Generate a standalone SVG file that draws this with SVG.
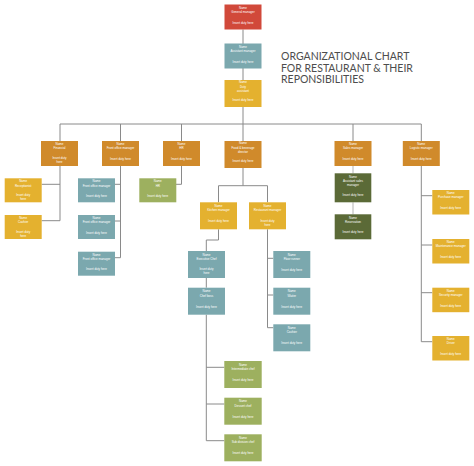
<svg xmlns="http://www.w3.org/2000/svg" width="474" height="466" viewBox="0 0 474 466">
<style>
.bg{fill:#ffffff}
.n rect{stroke:none}
.red{fill:#d1493a}
.teal{fill:#7ba8ae}
.yel{fill:#e4b12f}
.org{fill:#d08a2b}
.lg{fill:#9db05f}
.dg{fill:#5b6a37}
.n text{font-family:"Liberation Sans",Arial,sans-serif;font-size:3px;fill:#ffffff;text-anchor:middle}
.c path{fill:none;stroke:#8a8a8a;stroke-width:1}
.c .lt{stroke:#b5b5b5}
.title{font-family:Lato,"Open Sans",sans-serif;font-size:10.5px;fill:#4d4d4d}
</style>
<rect class="bg" x="0" y="0" width="474" height="466"/>
<g class="c">
<path d="M243,29.5V141"/>
<path d="M60,124H421.3"/>
<path d="M60,124V141M120.5,124V141M181.5,124V141M353,124V141M421.3,124V141"/>
<path d="M60,166V220.7M41.7,184.3H60M41.7,220.7H60"/>
<path d="M120.5,166V257.7M115,184.3H120.5M115,221H120.5M115,257.7H120.5"/>
<path d="M181.5,166V184.3H176"/>
<path d="M243,168V185.7M218.5,185.7H267.5M218.5,185.7V202.3M267.5,185.7V202.3"/>
<path d="M218.5,229.3V240H206.3V251"/>
<path d="M206.3,278V287.7"/>
<path d="M206.3,314.7V440.7M206.3,367.3H224.3M206.3,404H224.3M206.3,440.7H224.3"/>
<path d="M267.5,229.3V327.7M267.5,258.3H273.3M267.5,295H273.3M267.5,327.7H273.3"/>
<path class="lt" d="M353,166V173.3M353,202.3V214.3"/>
<path d="M421.3,166V341.7M421.3,195.7H432.3M421.3,245H432.3M421.3,292.7H432.3M421.3,341.7H432.3"/>
</g>
<g class="title">
<text x="281" y="60">ORGANIZATIONAL CHART</text>
<text x="281" y="71.5">FOR RESTAURANT &amp; THEIR</text>
<text x="281" y="83">REPONSIBILITIES</text>
</g>
<g id="general-manager" class="n"><rect class="red" x="224.5" y="4.5" width="37" height="25"/><text x="243" y="8.8">Name</text><text x="243" y="12.9">General manager</text><text x="243" y="23.6">Insert duty here</text></g>
<g id="assistant-manager" class="n"><rect class="teal" x="224.5" y="43.5" width="37" height="25"/><text x="243" y="47.8">Name</text><text x="243" y="51.9">Assistant manager</text><text x="243" y="62.6">Insert duty here</text></g>
<g id="duty-assistant" class="n"><rect class="yel" x="224.5" y="80" width="37" height="27"/><text x="243" y="83.3">Name</text><text x="243" y="87.6">Duty</text><text x="243" y="91.8">assistant</text><text x="243" y="101.4">Insert duty here</text></g>
<g id="financial" class="n"><rect class="org" x="41" y="141" width="37" height="25"/><text x="59.5" y="145.3">Name</text><text x="59.5" y="149.4">Financial</text><text x="59.5" y="159">Insert duty</text><text x="59.5" y="163">here</text></g>
<g id="front-office-manager" class="n"><rect class="org" x="102" y="141" width="37" height="25"/><text x="120.5" y="145.3">Name</text><text x="120.5" y="149.4">Front office manager</text><text x="120.5" y="160.1">Insert duty here</text></g>
<g id="hr" class="n"><rect class="org" x="163" y="141" width="37" height="25"/><text x="181.5" y="145.3">Name</text><text x="181.5" y="149.4">HR</text><text x="181.5" y="160.1">Insert duty here</text></g>
<g id="food-beverage-director" class="n"><rect class="org" x="224.5" y="141" width="37" height="27"/><text x="243" y="144.3">Name</text><text x="243" y="148.6">Food &amp; beverage</text><text x="243" y="152.8">director</text><text x="243" y="162.4">Insert duty here</text></g>
<g id="sales-manager" class="n"><rect class="org" x="334.5" y="141" width="37" height="25"/><text x="353" y="145.3">Name</text><text x="353" y="149.4">Sales manager</text><text x="353" y="160.1">Insert duty here</text></g>
<g id="logistic-manager" class="n"><rect class="org" x="402.8" y="141" width="37" height="25"/><text x="421.3" y="145.3">Name</text><text x="421.3" y="149.4">Logistic manager</text><text x="421.3" y="160.1">Insert duty here</text></g>
<g id="receptionist" class="n"><rect class="yel" x="4.7" y="178.3" width="37" height="24"/><text x="23.2" y="182.4">Name</text><text x="23.2" y="186.5">Receptionist</text><text x="23.2" y="195.8">Insert duty</text><text x="23.2" y="199.8">here</text></g>
<g id="cashier-financial" class="n"><rect class="yel" x="4.7" y="215" width="37" height="24"/><text x="23.2" y="219.1">Name</text><text x="23.2" y="223.2">Cashier</text><text x="23.2" y="232.5">Insert duty</text><text x="23.2" y="236.5">here</text></g>
<g id="front-office-1" class="n"><rect class="teal" x="78" y="178.3" width="37" height="24"/><text x="96.5" y="182.4">Name</text><text x="96.5" y="186.5">Front office manager</text><text x="96.5" y="197">Insert duty here</text></g>
<g id="front-office-2" class="n"><rect class="teal" x="78" y="215" width="37" height="24"/><text x="96.5" y="219.1">Name</text><text x="96.5" y="223.2">Front office manager</text><text x="96.5" y="233.7">Insert duty here</text></g>
<g id="front-office-3" class="n"><rect class="teal" x="78" y="251.7" width="37" height="24"/><text x="96.5" y="255.8">Name</text><text x="96.5" y="259.9">Front office manager</text><text x="96.5" y="270.4">Insert duty here</text></g>
<g id="hr-staff" class="n"><rect class="lg" x="139.3" y="178.3" width="37" height="24"/><text x="157.8" y="182.4">Name</text><text x="157.8" y="186.5">HR</text><text x="157.8" y="197">Insert duty here</text></g>
<g id="kitchen-manager" class="n"><rect class="yel" x="200" y="202.3" width="37" height="27"/><text x="218.5" y="206.8">Name</text><text x="218.5" y="211.2">Kitchen manager</text><text x="218.5" y="222.3">Insert duty here</text></g>
<g id="restaurant-manager" class="n"><rect class="yel" x="249" y="202.3" width="37" height="27"/><text x="267.5" y="206.8">Name</text><text x="267.5" y="211.2">Restaurant manager</text><text x="267.5" y="222">Insert duty</text><text x="267.5" y="226">here</text></g>
<g id="executive-chef" class="n"><rect class="teal" x="188" y="251" width="37" height="27"/><text x="206.5" y="255.5">Name</text><text x="206.5" y="259.9">Executive Chef</text><text x="206.5" y="270.3">Insert duty</text><text x="206.5" y="274.3">here</text></g>
<g id="chef-boss" class="n"><rect class="teal" x="188" y="287.7" width="37" height="27"/><text x="206.5" y="292.2">Name</text><text x="206.5" y="296.6">Chef boss</text><text x="206.5" y="307.7">Insert duty here</text></g>
<g id="floor-runner" class="n"><rect class="teal" x="273.3" y="251" width="37" height="27"/><text x="291.8" y="255.5">Name</text><text x="291.8" y="259.9">Floor runner</text><text x="291.8" y="271">Insert duty here</text></g>
<g id="waiter" class="n"><rect class="teal" x="273.3" y="287.7" width="37" height="27"/><text x="291.8" y="292.2">Name</text><text x="291.8" y="296.6">Waiter</text><text x="291.8" y="307.7">Insert duty here</text></g>
<g id="cashier-restaurant" class="n"><rect class="teal" x="273.3" y="324.3" width="37" height="27"/><text x="291.8" y="328.8">Name</text><text x="291.8" y="333.2">Cashier</text><text x="291.8" y="344.3">Insert duty here</text></g>
<g id="intermediate-chef" class="n"><rect class="lg" x="224.3" y="361" width="37.4" height="27"/><text x="243" y="365.5">Name</text><text x="243" y="369.9">Intermediate chef</text><text x="243" y="381">Insert duty here</text></g>
<g id="dessert-chef" class="n"><rect class="lg" x="224.3" y="397.7" width="37.4" height="27"/><text x="243" y="402.2">Name</text><text x="243" y="406.6">Dessert chef</text><text x="243" y="417.7">Insert duty here</text></g>
<g id="sub-division-chef" class="n"><rect class="lg" x="224.3" y="434.3" width="37.4" height="27"/><text x="243" y="438.8">Name</text><text x="243" y="443.2">Sub division chef</text><text x="243" y="454.3">Insert duty here</text></g>
<g id="assistant-sales-manager" class="n"><rect class="dg" x="334.7" y="173.3" width="36.6" height="29"/><text x="353" y="177.6">Name</text><text x="353" y="181.8">Assistant sales</text><text x="353" y="185.8">manager</text><text x="353" y="195.5">Insert duty here</text></g>
<g id="reservation" class="n"><rect class="dg" x="334.7" y="214.3" width="36.6" height="25"/><text x="353" y="218.6">Name</text><text x="353" y="222.7">Reservation</text><text x="353" y="233.3">Insert duty here</text></g>
<g id="purchase-manager" class="n"><rect class="yel" x="432.3" y="190" width="37" height="24.5"/><text x="450.8" y="194.2">Name</text><text x="450.8" y="198.3">Purchase manager</text><text x="450.8" y="208.8">Insert duty here</text></g>
<g id="maintenance-manager" class="n"><rect class="yel" x="432.3" y="239" width="37" height="24.5"/><text x="450.8" y="243.2">Name</text><text x="450.8" y="247.3">Maintenance manager</text><text x="450.8" y="257.8">Insert duty here</text></g>
<g id="security-manager" class="n"><rect class="yel" x="432.3" y="287.7" width="37" height="24.5"/><text x="450.8" y="291.9">Name</text><text x="450.8" y="296">Security manager</text><text x="450.8" y="306.5">Insert duty here</text></g>
<g id="driver" class="n"><rect class="yel" x="432.3" y="336" width="37" height="24.5"/><text x="450.8" y="340.2">Name</text><text x="450.8" y="344.3">Driver</text><text x="450.8" y="354.8">Insert duty here</text></g>
</svg>
